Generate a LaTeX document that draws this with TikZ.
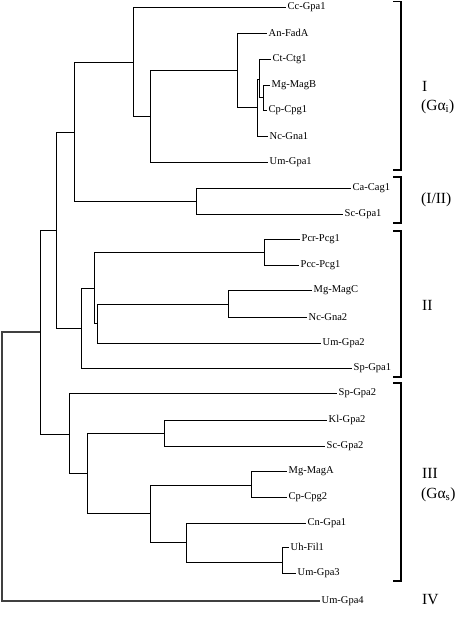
\documentclass[tikz,border=0pt]{standalone}
\usepackage{fontspec}
\setmainfont{Liberation Serif}

\begin{document}
\begin{tikzpicture}[x=1pt, y=-1pt,
  branch/.style={line width=0.9pt},
  leaf/.style={anchor=west, inner sep=1.5pt, font=\fontsize{10.5}{12}\selectfont},
  clade/.style={anchor=west, inner sep=0pt, font=\fontsize{15.5}{18}\selectfont},
  bracket/.style={line width=1.1pt}]
\useasboundingbox (0,0) rectangle (474,622);

% leaves
\node[leaf] (ccgpa1) at (286,7) {Cc-Gpa1};
\node[leaf] (anfada) at (267,33) {An-FadA};
\node[leaf] (ctctg1) at (271,59) {Ct-Ctg1};
\node[leaf] (mgmagb) at (270,85) {Mg-MagB};
\node[leaf] (cpcpg1) at (267,110) {Cp-Cpg1};
\node[leaf] (ncgna1) at (268,136) {Nc-Gna1};
\node[leaf] (umgpa1) at (268,162) {Um-Gpa1};
\node[leaf] (cacag1) at (351,188) {Ca-Cag1};
\node[leaf] (scgpa1) at (343,214) {Sc-Gpa1};
\node[leaf] (pcrpcg1) at (300,239) {Pcr-Pcg1};
\node[leaf] (pccpcg1) at (299,265) {Pcc-Pcg1};
\node[leaf] (mgmagc) at (312,290) {Mg-MagC};
\node[leaf] (ncgna2) at (307,317) {Nc-Gna2};
\node[leaf] (umgpa2) at (321,343) {Um-Gpa2};
\node[leaf] (spgpa1) at (352,368) {Sp-Gpa1};
\node[leaf] (spgpa2) at (337,393) {Sp-Gpa2};
\node[leaf] (klgpa2) at (327,420) {Kl-Gpa2};
\node[leaf] (scgpa2) at (325,446) {Sc-Gpa2};
\node[leaf] (mgmaga) at (287,471) {Mg-MagA};
\node[leaf] (cpcpg2) at (287,497) {Cp-Cpg2};
\node[leaf] (cngpa1) at (306,523) {Cn-Gpa1};
\node[leaf] (uhfil1) at (289,547) {Uh-Fil1};
\node[leaf] (umgpa3) at (296,573) {Um-Gpa3};
\node[leaf] (umgpa4) at (320,601) {Um-Gpa4};

% inner nodes
\coordinate (root) at (2,466);
\coordinate (nA) at (40,332);
\coordinate (nB) at (56,230);
\coordinate (nC) at (74,132);
\coordinate (nD) at (133,62);
\coordinate (nF) at (150,116);
\coordinate (nG) at (237,70);
\coordinate (nH) at (257,107);
\coordinate (nJ) at (259,79);
\coordinate (nK) at (263,97);
\coordinate (nE) at (196,201);
\coordinate (nII) at (81,328);
\coordinate (nL) at (94,288);
\coordinate (nM) at (264,252);
\coordinate (nN) at (97,323);
\coordinate (nP) at (228,304);
\coordinate (nIII) at (69,434);
\coordinate (nQ) at (87,473);
\coordinate (nR) at (164,433);
\coordinate (nS) at (150,513);
\coordinate (nT) at (251,485);
\coordinate (nU) at (186,542);
\coordinate (nV) at (282,562);

% branches
\draw[line width=1.6pt, black!75] (root) |- (nA) (root) |- (umgpa4.west);
\draw[branch] (nA) |- (nB) (nA) |- (nIII);
\draw[branch] (nB) |- (nC) (nB) |- (nII);
\draw[branch] (nC) |- (nD) (nC) |- (nE);
\draw[branch] (nD) |- (ccgpa1.west) (nD) |- (nF);
\draw[branch] (nF) |- (nG) (nF) |- (umgpa1.west);
\draw[branch] (nG) |- (anfada.west) (nG) |- (nH);
\draw[branch] (nH) |- (nJ) (nH) |- (ncgna1.west);
\draw[branch] (nJ) |- (ctctg1.west) (nJ) |- (nK);
\draw[branch] (nK) |- (mgmagb.west) (nK) |- (cpcpg1.west);
\draw[branch] (nE) |- (cacag1.west) (nE) |- (scgpa1.west);
\draw[branch] (nII) |- (nL) (nII) |- (spgpa1.west);
\draw[branch] (nL) |- (nM) (nL) |- (nN);
\draw[branch] (nM) |- (pcrpcg1.west) (nM) |- (pccpcg1.west);
\draw[branch] (nN) |- (nP) (nN) |- (umgpa2.west);
\draw[branch] (nP) |- (mgmagc.west) (nP) |- (ncgna2.west);
\draw[branch] (nIII) |- (spgpa2.west) (nIII) |- (nQ);
\draw[branch] (nQ) |- (nR) (nQ) |- (nS);
\draw[branch] (nR) |- (klgpa2.west) (nR) |- (scgpa2.west);
\draw[branch] (nS) |- (nT) (nS) |- (nU);
\draw[branch] (nT) |- (mgmaga.west) (nT) |- (cpcpg2.west);
\draw[branch] (nU) |- (cngpa1.west) (nU) |- (nV);
\draw[branch] (nV) |- (uhfil1.west) (nV) |- (umgpa3.west);

% brackets
\draw[bracket] (393,1.5) -| (401,170) -- (393,170);
\draw[bracket] (393,177) -| (401,223) -- (393,223);
\draw[bracket] (393,231) -| (401,377) -- (393,377);
\draw[bracket] (393,383) -| (401,581) -- (393,581);

% clade labels
\node[clade] (gi) at (422,86) {I};
\node[clade] (gialpha) at (421,107) {(Gα\textsubscript{i})};
\node[clade] (gii) at (421,200) {(I/II)};
\node[clade] (giib) at (422,305) {II};
\node[clade] (giii) at (422,473) {III};
\node[clade] (giiialpha) at (421,495) {(Gα\textsubscript{s})};
\node[clade] (giv) at (422,600) {IV};
\end{tikzpicture}
\end{document}
